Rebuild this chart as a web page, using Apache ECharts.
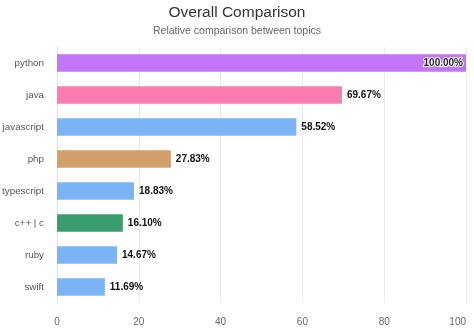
<!DOCTYPE html>
<html>
<head>
<meta charset="utf-8">
<script src="https://cdn.jsdelivr.net/npm/echarts@6/dist/echarts.min.js"></script>
<style>
  html, body { margin: 0; padding: 0; background: #fff; }
  #chart { width: 474px; height: 333px; }
</style>
</head>
<body>
<div id="chart"></div>
<script>
// topics, top to bottom
const topics = ['python', 'java', 'javascript', 'php', 'typescript', 'c++ | c', 'ruby', 'swift']
const shares = [100.00, 69.67, 58.52, 27.83, 18.83, 16.10, 14.67, 11.69]
const barColors = ['#c474fb', '#fb7cb1', '#7ab4f6', '#d1a06a', '#7ab4f6', '#3a9d6f', '#7ab4f6', '#7ab4f6']
const xTicks = [0, 20, 40, 60, 80, 100]

const font = 'Liberation Sans'

const chart = echarts.init(document.getElementById('chart'), null, { renderer: 'canvas' })

const seriesData = shares.map((v, i) => {
  const item = { value: v, itemStyle: { color: barColors[i] } }
  // the full-length bar carries its label inside
  if (v >= 100) {
    item.label = {
      position: 'insideRight',
      distance: 3,
      color: '#222',
      textBorderColor: '#fff',
      textBorderWidth: 2
    }
  }
  return item
})

chart.setOption({
  backgroundColor: '#fff',
  title: {
    text: 'Overall Comparison',
    subtext: 'Relative comparison between topics',
    left: 'center',
    top: 0,
    itemGap: 5,
    textStyle: { fontFamily: font, fontSize: 15.5, fontWeight: 'normal', color: '#333' },
    subtextStyle: { fontFamily: font, fontSize: 10.5, color: '#666' }
  },
  grid: { left: 57, right: 8, top: 47, bottom: 30, containLabel: false, outerBoundsMode: 'none' },
  xAxis: {
    type: 'value',
    min: xTicks[0],
    max: xTicks[xTicks.length - 1],
    interval: 20,
    axisLine: { show: false },
    axisTick: { show: false },
    splitLine: { lineStyle: { color: '#ebebeb', width: 1 } },
    axisLabel: { color: '#666', fontSize: 10, fontFamily: font, margin: 14, alignMaxLabel: 'right' }
  },
  yAxis: {
    type: 'category',
    data: topics,
    inverse: true,
    axisLine: { lineStyle: { color: '#dde3ec' } },
    axisTick: { length: 7, lineStyle: { color: '#dde3ec' } },
    axisLabel: { color: '#555', fontSize: 9.8, fontFamily: font, margin: 13 }
  },
  series: [{
    type: 'bar',
    data: seriesData,
    barWidth: '54%',
    label: {
      show: true,
      position: 'right',
      distance: 5,
      formatter: p => p.value.toFixed(2) + '%',
      color: '#111',
      fontWeight: 'bold',
      fontSize: 10,
      fontFamily: font
    }
  }]
})
</script>
</body>
</html>
